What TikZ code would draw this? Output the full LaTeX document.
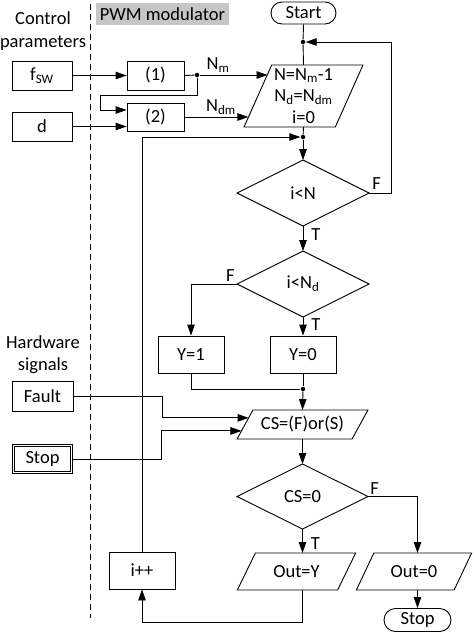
\documentclass[tikz,border=0pt]{standalone}
\usepackage{fontspec}
\setmainfont{Carlito}
\usetikzlibrary{
    arrows.meta,
    shapes.geometric,
    shapes.misc,
    positioning
}

\tikzset{
    box/.style={draw, rectangle, inner sep=0pt},
    para/.style={draw, trapezium, trapezium stretches=true, inner sep=0pt, outer sep=0pt},
    cond/.style={draw, diamond, inner sep=0pt, outer sep=0pt, minimum width=132pt, minimum height=66pt},
    term/.style={draw, rounded rectangle, inner sep=0pt, minimum height=22pt},
    dot/.style={circle, fill, inner sep=0pt, minimum size=4.5pt},
    lbl/.style={inner sep=2pt}
}

\begin{document}
\begin{tikzpicture}[x=1pt, y=-1pt, line width=0.9pt, >={Triangle[length=11pt, width=7.5pt]},
    every node/.style={font=\fontsize{18.5}{22}\selectfont}]
    \useasboundingbox (0,0) rectangle (474,632);
    % left column
    \node[align=center, font=\fontsize{18.5}{23}\selectfont] (ctrl) at (43,31) {Control\\parameters};
    \node[align=center, font=\fontsize{18.5}{22}\selectfont] (hw) at (43,355) {Hardware\\signals};
    \node[fill=gray!45, minimum width=133pt, minimum height=22pt, inner sep=0pt] (pwm) at (162.5,14) {PWM modulator};
    \draw[dash pattern=on 6pt off 4pt] (90,4) -- (90,618);
    \node[box, minimum width=60pt, minimum height=29pt] (fsw) at (42,75.5) {f\textsubscript{SW}};
    \node[box, minimum width=60pt, minimum height=29pt] (dd) at (42,126.5) {d};
    \node[box, minimum width=61pt, minimum height=30pt] (fault) at (42.5,396) {Fault};
    \node[box, double, double distance=1.6pt, minimum width=58pt, minimum height=27pt] (stp) at (42.5,459) {Stop};
    \node[box, minimum width=57pt, minimum height=29pt] (b1) at (155.5,75.5) {(1)};
    \node[box, minimum width=57pt, minimum height=28pt] (b2) at (155.5,117) {(2)};
    \node[box, minimum width=66pt, minimum height=37pt] (inc) at (142,570.5) {i++};
    % flow chart
    \node[term, minimum width=65pt] (start) at (303.5,13) {Start};
    \node[dot] (j1) at (303,42) {};
    \node[para, trapezium left angle=65, trapezium right angle=115, minimum width=119pt, minimum height=62pt, align=center, font=\fontsize{18.5}{21.5}\selectfont] (p1) at (303.5,96) {N=N\textsubscript{m}-1\\N\textsubscript{d}=N\textsubscript{dm}\\i=0};
    \node[dot] (jn) at (197,75) {};
    \node[dot] (j2) at (303,137) {};
    \node[cond] (d1) at (303,193) {i<N};
    \node[cond] (d2) at (303,284) {i<N\textsubscript{d}};
    \node[box, minimum width=66pt, minimum height=37pt] (y1) at (191,354.5) {Y=1};
    \node[box, minimum width=66pt, minimum height=37pt] (y0) at (303,354.5) {Y=0};
    \node[dot] (j3) at (303,389) {};
    \node[para, trapezium left angle=50.4, trapezium right angle=129.6, minimum width=131pt, minimum height=29pt] (pcs) at (302.5,424.5) {CS=(F)or(S)};
    \node[cond, minimum width=131pt, minimum height=65pt] (d3) at (302.5,496.5) {CS=0};
    \node[para, trapezium left angle=50, trapezium right angle=130, minimum width=119pt, minimum height=37pt] (pout) at (296.5,571.5) {Out=Y};
    \node[para, trapezium left angle=50, trapezium right angle=130, minimum width=116pt, minimum height=37pt] (pzero) at (414,571.5) {Out=0};
    \node[term, minimum width=67pt, minimum height=23pt] (stop) at (417.5,620) {Stop};
    % inputs
    \draw[->] (fsw.east) -- (b1.west);
    \draw[->] (dd.east) -- (dd.east -| b2.west);
    \draw (b1.east) -- (jn);
    \draw[->] (jn) -- node[lbl, above, pos=0.27] {N\textsubscript{m}} (jn -| p1.149);
    \draw[->] (jn) -- ++(0,20) -- ++(-97,0) |- ([yshift=7pt]b2.west);
    \draw[->] (b2.east) -- node[lbl, above, pos=0.57] {N\textsubscript{dm}} (b2.east -| p1.201);
    \draw[->] (fault.east) -- ++(89,0) |- (pcs.173.6);
    \draw[->] (stp.east) -- ++(89,0) |- (pcs.186.3);
    % main flow
    \draw (start.south) -- (j1);
    \draw (j1) -- (p1.north);
    \draw (p1.south) -- (j2);
    \draw[->] (j2) -- (d1.north);
    \draw[->] (inc.north) |- (j2);
    \draw[->] (d1.east) -- node[lbl, pos=0, above right, inner sep=3pt] {F} ++(22,0) |- (j1);
    \draw[->] (d1.south) -- node[right, pos=0.36, inner sep=8pt] {T} (d2.north);
    \draw[->] (d2.west) -| node[lbl, pos=0, above left] {F} (y1.north);
    \draw[->] (d2.south) -- node[right, pos=0.42, inner sep=8pt] {T} (y0.north);
    \draw (y1.south) |- (j3);
    \draw (y0.south) -- (j3);
    \draw[->] (j3) -- (pcs.north);
    \draw[->] (pcs.south) -- (d3.north);
    \draw[->] (d3.east) -| node[lbl, pos=0, above right] {F} (stop.north |- pzero.north);
    \draw[->] (d3.south) -- node[right, pos=0.6, inner sep=8pt] {T} (d3.south |- pout.north);
    \draw[->] (d3.south |- pout.south) -- ++(0,32) -| (inc.south);
    \draw[->] (stop.north |- pzero.south) -- (stop.north);
\end{tikzpicture}
\end{document}
